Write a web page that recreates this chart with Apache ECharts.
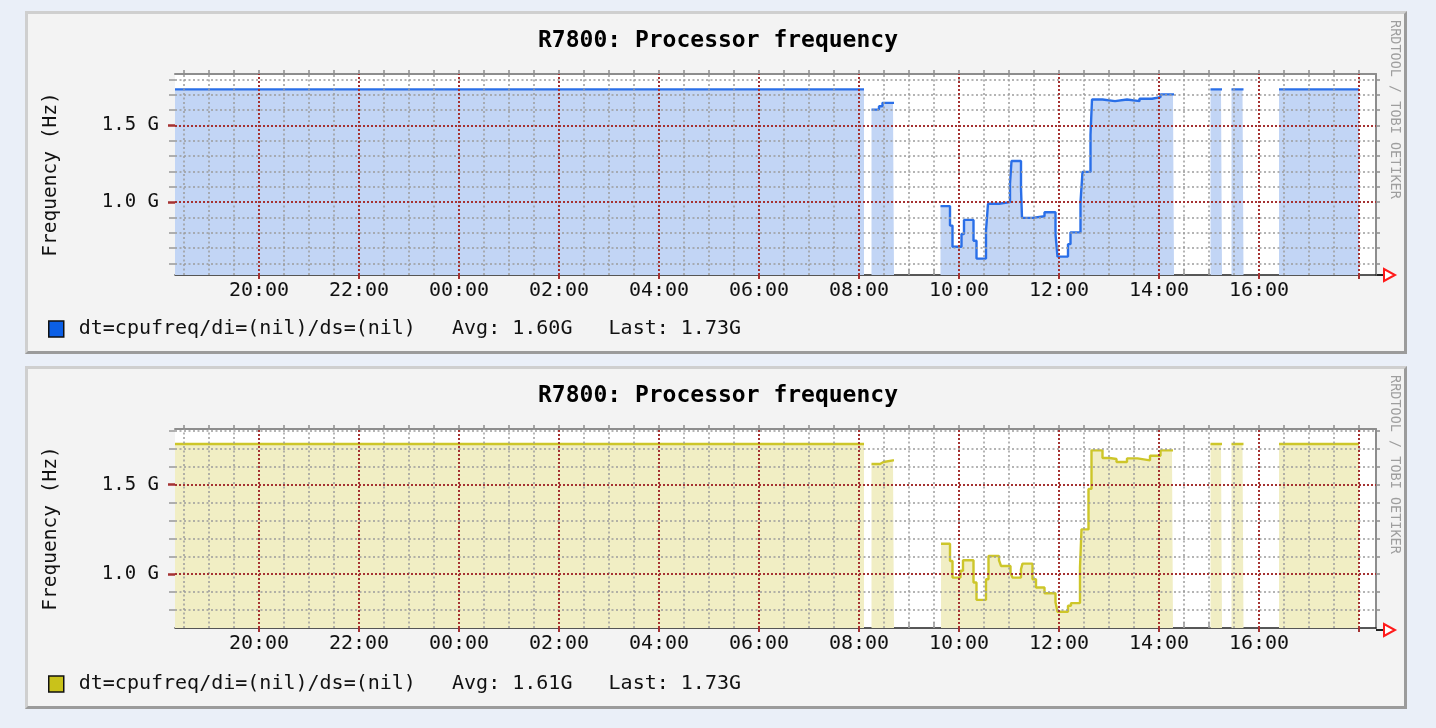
<!DOCTYPE html>
<html><head><meta charset="utf-8">
<script src="https://cdn.jsdelivr.net/npm/echarts@6/dist/echarts.min.js"></script>
<style>
html,body{margin:0;padding:0;background:#eaeff8;width:1436px;height:728px;overflow:hidden}
.panel{position:absolute;left:25px;width:1382px;height:343px;box-sizing:border-box;background:#f3f3f3;border:3px solid;border-color:#cfcfcf #9b9b9b #9b9b9b #cfcfcf}
#chart{position:absolute;left:0;top:0;width:1436px;height:728px}
</style></head><body>
<div class="panel" style="top:11px"></div>
<div class="panel" style="top:366px"></div>
<div id="chart"></div>
<script>
// ---- data (time in hours since 00:00 of day 1; values in GHz; null = no data) ----
const titleText = 'R7800: Processor frequency';
const yAxisName = 'Frequency (Hz)';
const seriesLabel = 'dt=cpufreq/di=(nil)/ds=(nil)';
const topStats = ['Avg: 1.60G', 'Last: 1.73G'];
const bottomStats = ['Avg: 1.61G', 'Last: 1.73G'];

const topTimes = [
  18.32, 32.02, 32.10,
  32.25, 32.40, 32.47, 32.68, 32.70,
  33.63, 33.82, 33.87, 34.05, 34.10, 34.29, 34.35, 34.54, 34.58, 34.80,
  35.02, 35.05, 35.24, 35.26, 35.47, 35.71, 35.93, 35.97, 36.18, 36.23,
  36.43, 36.47, 36.63, 36.66, 36.87, 37.12, 37.36, 37.61, 37.86, 38.03, 38.28, 38.30,
  39.03, 39.24, 39.26,
  39.45, 39.67, 39.69,
  40.40, 42.00
];
const topValues = [
  1.735, 1.735, null,
  1.603, 1.625, 1.647, 1.647, null,
  0.974, 0.847, 0.709, 0.792, 0.884, 0.748, 0.632, 0.814, 0.989, 1.000,
  1.121, 1.268, 1.090, 0.897, 0.908, 0.934, 0.792, 0.645, 0.726, 0.803,
  1.000, 1.197, 1.439, 1.669, 1.658, 1.669, 1.658, 1.674, 1.684, 1.702, 1.702, null,
  1.735, 1.735, null,
  1.735, 1.735, null,
  1.735, 1.735
];
const bottomTimes = [
  18.32, 32.02, 32.10,
  32.25, 32.42, 32.49, 32.68, 32.70,
  33.64, 33.82, 33.87, 34.03, 34.08, 34.29, 34.35, 34.54, 34.59, 34.80,
  34.84, 35.03, 35.07, 35.24, 35.27, 35.47, 35.54, 35.71, 35.93, 35.97,
  36.18, 36.24, 36.42, 36.45, 36.59, 36.65, 36.87, 37.01, 37.15, 37.36,
  37.57, 37.82, 38.03, 38.26, 38.28,
  39.03, 39.24, 39.26,
  39.45, 39.67, 39.69,
  40.40, 42.00
];
const bottomValues = [
  1.726, 1.726, null,
  1.615, 1.626, 1.635, 1.635, null,
  1.170, 1.074, 0.981, 1.019, 1.078, 0.954, 0.857, 0.972, 1.102, 1.078,
  1.046, 1.009, 0.981, 1.028, 1.059, 0.972, 0.926, 0.894, 0.843, 0.791,
  0.824, 0.839, 1.039, 1.250, 1.476, 1.691, 1.648, 1.643, 1.626, 1.646,
  1.635, 1.661, 1.691, 1.691, null,
  1.726, 1.726, null,
  1.726, 1.726, null,
  1.726, 1.726
];

// ---- axis ticks / labels ----
const xMin = 18.32, xMax = 42.34;
const xLabelValues = [20, 22, 24, 26, 28, 30, 32, 34, 36, 38, 40];
const xLabelTexts = ['20:00','22:00','00:00','02:00','04:00','06:00','08:00','10:00','12:00','14:00','16:00'];
const xMajor = [20, 22, 24, 26, 28, 30, 32, 34, 36, 38, 40, 42];
const xMinor = [18.5,19,19.5,20.5,21,21.5,22.5,23,23.5,24.5,25,25.5,26.5,27,27.5,28.5,29,29.5,
  30.5,31,31.5,32.5,33,33.5,34.5,35,35.5,36.5,37,37.5,38.5,39,39.5,40.5,41,41.5];
const yLabelValues = [1.0, 1.5];
const yMajor = [1.0, 1.5];
const topYRange = [0.525, 1.835];
const bottomYRange = [0.70, 1.81];
const topYMinor = [0.6,0.7,0.8,0.9,1.1,1.2,1.3,1.4,1.6,1.7,1.8];
const bottomYMinor = [0.8,0.9,1.1,1.2,1.3,1.4,1.6,1.7,1.8];

const FONT = 'DejaVu Sans Mono';
const MINOR_STYLE = {color:'#9c9c9c', width:1.5, type:[2,2.5]};
const MAJOR_STYLE = {color:'#a53232', width:2, type:[2,2]};
const palette = {
  top:{line:'#2a6fe8', fill:'#c2d5f5', legend:'#0b5fe6'},
  bottom:{line:'#cdc62a', fill:'#f1eec4', legend:'#c9c21a'}
};

const topData = topTimes.map((t,i)=>[t, topValues[i]]);
const bottomData = bottomTimes.map((t,i)=>[t, bottomValues[i]]);

function xAxes(g){
  return [
    {gridIndex:g, type:'value', min:xMin, max:xMax, position:'bottom',
     axisLine:{show:true,onZero:false,lineStyle:{color:'#222',width:1.5}},
     axisTick:{show:true,inside:true,length:6,customValues:xMinor,lineStyle:{color:'#999',width:1.5}},
     axisLabel:{show:true,customValues:xLabelValues,margin:6,fontFamily:FONT,fontSize:20,color:'#111',
       formatter:v=>xLabelTexts[xLabelValues.indexOf(Math.round(v))]},
     splitLine:{show:false}},
    {gridIndex:g, type:'value', min:xMin, max:xMax, position:'top',
     axisLine:{show:true,onZero:false,lineStyle:{color:'#8d8d8d',width:2}},
     axisTick:{show:true,length:4,customValues:xMinor.concat(xMajor),lineStyle:{color:'#8d8d8d',width:1.5}},
     axisLabel:{show:false},splitLine:{show:false}},
    {gridIndex:g, type:'value', min:xMin, max:xMax, position:'bottom', offset:0,
     axisLine:{show:false},
     axisTick:{show:true,length:4,customValues:xMajor,lineStyle:{color:'#a53232',width:2}},
     axisLabel:{show:false},splitLine:{show:false}}
  ];
}
function yAxes(g, range, minor){
  return [
    {gridIndex:g, type:'value', min:range[0], max:range[1], position:'left',
     name:yAxisName, nameLocation:'middle', nameRotate:90, nameGap:114,
     nameTextStyle:{fontFamily:FONT,fontSize:19.5,color:'#111'},
     axisLine:{show:false},
     axisTick:{show:true,length:6,customValues:minor,lineStyle:{color:'#999',width:1.5}},
     axisLabel:{show:true,customValues:yLabelValues,margin:16,fontFamily:FONT,fontSize:19,color:'#111',
       formatter:v=>v.toFixed(1)+' G'},
     splitLine:{show:false}},
    {gridIndex:g, type:'value', min:range[0], max:range[1], position:'right',
     axisLine:{show:true,onZero:false,lineStyle:{color:'#8d8d8d',width:2}},
     axisTick:{show:true,length:4,customValues:minor.concat(yMajor),lineStyle:{color:'#8d8d8d',width:1.5}},
     axisLabel:{show:false},splitLine:{show:false}},
    {gridIndex:g, type:'value', min:range[0], max:range[1], position:'left', offset:0,
     axisLine:{show:false},
     axisTick:{show:true,length:7,customValues:yMajor,lineStyle:{color:'#a53232',width:2.5}},
     axisLabel:{show:false},splitLine:{show:false}}
  ];
}
function gridLines(yMinor){
  return [].concat(
    xMinor.map(v=>({xAxis:v, lineStyle:MINOR_STYLE})),
    yMinor.map(v=>({yAxis:v, lineStyle:MINOR_STYLE})),
    xMajor.map(v=>({xAxis:v, lineStyle:MAJOR_STYLE})),
    yMajor.map(v=>({yAxis:v, lineStyle:MAJOR_STYLE}))
  );
}
function seriesFor(key, data, xi, yi, yMinor){
  const c = palette[key];
  return [
    {name:'area-'+key, type:'line', xAxisIndex:xi, yAxisIndex:yi, step:'end', data:data,
     symbol:'none', showSymbol:false, silent:true, z:1,
     lineStyle:{width:0,opacity:0}, areaStyle:{color:c.fill,opacity:1,origin:'start'}},
    {name:'grid-'+key, type:'line', xAxisIndex:xi, yAxisIndex:yi, data:data,
     symbol:'none', showSymbol:false, silent:true, z:2, lineStyle:{width:0,opacity:0},
     markLine:{silent:true, symbol:['none','none'], label:{show:false}, animation:false,
       emphasis:{disabled:true}, data:gridLines(yMinor)}},
    {name:'cpu-'+key, type:'line', xAxisIndex:xi, yAxisIndex:yi, step:'end', data:data,
     symbol:'none', showSymbol:false, z:3, lineStyle:{color:c.line,width:2.4}, itemStyle:{color:c.line}}
  ];
}
const legendText = {
  'cpu-top': seriesLabel + '   ' + topStats.join('   '),
  'cpu-bottom': seriesLabel + '   ' + bottomStats.join('   ')
};
function legendFor(key, top){
  return {left:48, top:top, padding:0, icon:'rect', itemWidth:15, itemHeight:16,
    data:[{name:'cpu-'+key, itemStyle:{color:palette[key].legend,borderColor:'#111',borderWidth:1.5}}],
    formatter:n=>legendText[n], selectedMode:false,
    textStyle:{fontFamily:FONT,fontSize:20,color:'#111',padding:[0,0,0,10]}};
}
function decorations(dy){
  return [
    {type:'line', shape:{x1:1376,y1:275+dy,x2:1384,y2:275+dy}, style:{stroke:'#222',lineWidth:2}},
    {type:'polygon', shape:{points:[[1384,269+dy],[1384,281+dy],[1395,275+dy]]}, style:{fill:'#ffffff',stroke:'#ff1a1a',lineWidth:2}},
    {type:'text', x:1394, y:20+dy, rotation:-Math.PI/2,
     style:{text:'RRDTOOL / TOBI OETIKER', font:'13.5px "DejaVu Sans Mono"', fill:'#9e9e9e', align:'left', verticalAlign:'middle'}}
  ];
}

const chart = echarts.init(document.getElementById('chart'), null, {renderer:'canvas'});
chart.setOption({
  animation:false,
  backgroundColor:'transparent',
  title:[
    {text:titleText, left:'center', top:30, padding:0,
     textStyle:{fontFamily:FONT,fontWeight:'bold',fontSize:23,color:'#000'}},
    {text:titleText, left:'center', top:385, padding:0,
     textStyle:{fontFamily:FONT,fontWeight:'bold',fontSize:23,color:'#000'}}
  ],
  legend:[legendFor('top',319), legendFor('bottom',674)],
  grid:[
    {left:175, top:74, width:1201, height:201, show:true, backgroundColor:'#ffffff', borderWidth:0},
    {left:175, top:429, width:1201, height:199, show:true, backgroundColor:'#ffffff', borderWidth:0}
  ],
  xAxis: xAxes(0).concat(xAxes(1)),
  yAxis: yAxes(0, topYRange, topYMinor).concat(yAxes(1, bottomYRange, bottomYMinor)),
  series: seriesFor('top', topData, 0, 0, topYMinor).concat(seriesFor('bottom', bottomData, 3, 3, bottomYMinor)),
  graphic: decorations(0).concat(decorations(355))
});
</script></body></html>
